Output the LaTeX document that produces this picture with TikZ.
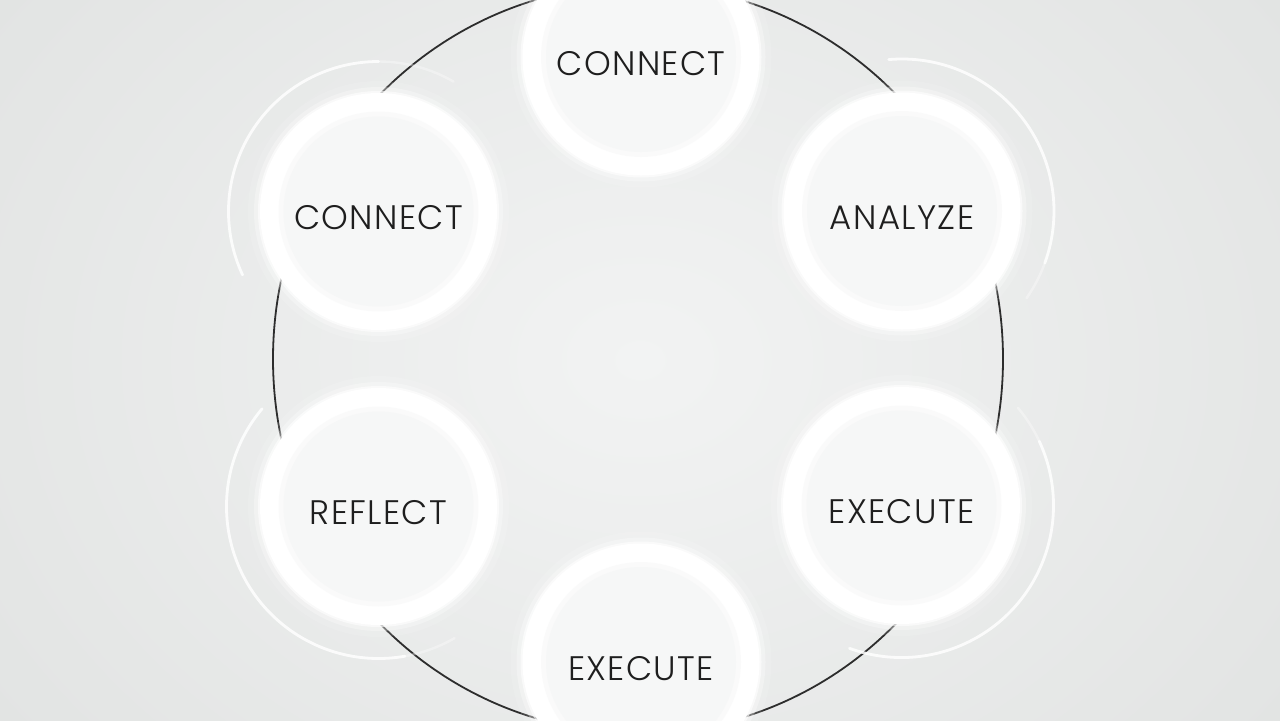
\documentclass[tikz,border=0pt]{standalone}
\usepackage{fontspec}
\setmainfont{Poppins Light}[LetterSpace=4]
\usepackage{tikz}
\usetikzlibrary{calc, positioning}
\definecolor{bgOuter}{RGB}{225,227,226}
\definecolor{bgInner}{RGB}{242,243,243}
\definecolor{discGray}{RGB}{246,247,247}
\definecolor{ringLine}{RGB}{45,45,45}
\definecolor{labelInk}{RGB}{30,30,30}
\tikzset{
    x=0.5pt, y=0.5pt,% one unit is one pixel of the 1280x720 frame
    bubble/.style ={circle, fill=white, minimum size=118.5pt, inner sep=0pt,
        text=labelInk, font=\fontsize{17}{17}\selectfont,
        text height=18pt, text depth=0pt,% pushes the caps a little below the middle
        preaction={draw=white, line width=12pt, draw opacity=0.12},
        preaction={draw=white, line width=6pt, draw opacity=0.3},
        preaction={draw=white, line width=2pt, draw opacity=0.6},
        path picture={
            \fill[discGray, opacity=0.5] (path picture bounding box.center) circle (50pt);
            \fill[discGray] (path picture bounding box.center) circle (47.5pt);
        }},
    halo/.style = {draw=white, line width=1.4pt, line cap=round, draw opacity=0.85},
    halofade/.style = {draw=white, line width=1.2pt, line cap=round, draw opacity=0.35},
    cycleline/.style = {draw=ringLine, line width=0.9pt}
}
\begin{document}
\begin{tikzpicture}
    \useasboundingbox (0,0) rectangle (1280,720);
    \shade[inner color=bgInner, outer color=bgOuter] (-200,-300) rectangle (1480,1020);

    % the big loop behind the six steps
    \draw[cycleline] (638,361) ellipse [x radius=182.5pt, y radius=187pt];

    % steps, clockwise from the top
    \node[bubble] (connectTop) at (641,663) {CONNECT};
    \node[bubble] (analyze) at (902,509) {ANALYZE};
    \node[bubble] (executeRight) at (901.5,214.5) {EXECUTE};
    \node[bubble] (executeBottom) at (641,58) {EXECUTE};
    \node[bubble] (reflect) at (378.5,213.5) {REFLECT};
    \node[bubble] (connectLeft) at (378.5,508.5) {CONNECT};

    % thin white halos on the four side steps
    \draw[halo] (connectLeft) ++(90:75pt) arc[start angle=90, end angle=205, radius=75pt];
    \draw[halofade] (connectLeft) ++(60:75pt) arc[start angle=60, end angle=90, radius=75pt];
    \draw[halo] (analyze) ++(-20:76pt) arc[start angle=-20, end angle=95, radius=76pt];
    \draw[halofade] (analyze) ++(-35:76pt) arc[start angle=-35, end angle=-20, radius=76pt];
    \draw[halo] (executeRight) ++(-110:76pt) arc[start angle=-110, end angle=25, radius=76pt];
    \draw[halofade] (executeRight) ++(25:76pt) arc[start angle=25, end angle=40, radius=76pt];
    \draw[halo] (reflect) ++(140:76pt) arc[start angle=140, end angle=280, radius=76pt];
    \draw[halofade] (reflect) ++(280:76pt) arc[start angle=280, end angle=300, radius=76pt];
\end{tikzpicture}
\end{document}
